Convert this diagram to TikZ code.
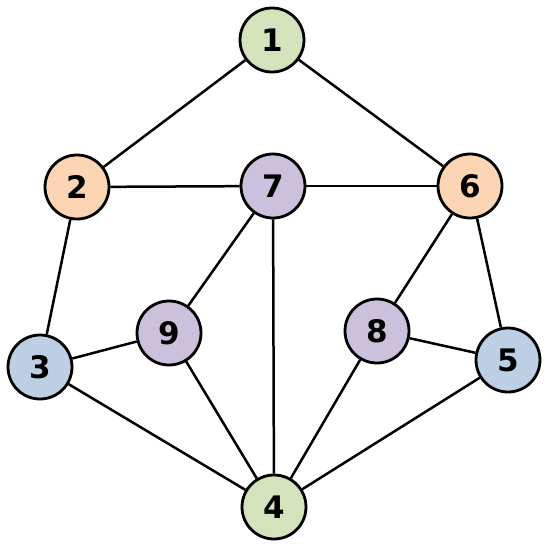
\documentclass[tikz,border=0pt]{standalone}
\usepackage{fontspec}
\setmainfont{DejaVu Sans}
\definecolor{greenfill}{HTML}{D5E3BC}
\definecolor{orangefill}{HTML}{FCD6B4}
\definecolor{bluefill}{HTML}{BCCFE4}
\definecolor{purplefill}{HTML}{CBC1DC}

\begin{document}
\begin{tikzpicture}[
    x=1pt,
    y=-1pt,
    vertex/.style={
        circle,
        draw,
        line width=2.8pt,
        minimum size=64pt,
        inner sep=0pt,
        font=\fontsize{31}{34}\selectfont\bfseries
    },
    edge/.style={
        line width=2.5pt
    }
]
\useasboundingbox (0,0) rectangle (550,544);

%--------------------------------------------------
\node[vertex,fill=greenfill] (n1) at (272,40) {1};
\node[vertex,fill=orangefill] (n2) at (77,187) {2};
\node[vertex,fill=purplefill] (n7) at (273,186) {7};
\node[vertex,fill=orangefill] (n6) at (470,186) {6};
\node[vertex,fill=purplefill] (n9) at (169,333) {9};
\node[vertex,fill=purplefill] (n8) at (377,331) {8};
\node[vertex,fill=bluefill] (n3) at (40,367) {3};
\node[vertex,fill=bluefill] (n5) at (508,360) {5};
\node[vertex,fill=greenfill] (n4) at (274,507) {4};

%--------------------------------------------------
\draw[edge] (n1) -- (n2);
\draw[edge] (n1) -- (n6);
\draw[edge] (n2) -- (n7);
\draw[edge] (n7) -- (n6);
\draw[edge] (n2) -- (n3);
\draw[edge] (n7) -- (n9);
\draw[edge] (n7) -- (n4);
\draw[edge] (n6) -- (n8);
\draw[edge] (n6) -- (n5);
\draw[edge] (n3) -- (n9);
\draw[edge] (n8) -- (n5);
\draw[edge] (n9) -- (n4);
\draw[edge] (n8) -- (n4);
\draw[edge] (n3) -- (n4);
\draw[edge] (n5) -- (n4);

\end{tikzpicture}
\end{document}
